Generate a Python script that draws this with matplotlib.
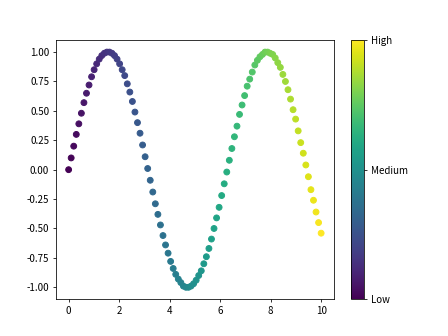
import numpy as np
import matplotlib
matplotlib.use("Agg")
import matplotlib.pyplot as plt

plt.rcParams['font.family'] = ['Noto Sans CJK SC', 'DejaVu Sans']
plt.rcParams['axes.unicode_minus'] = False

# punti
x = [0.000, 0.101, 0.202, 0.303, 0.404, 0.505, 0.606, 0.707, 0.808, 0.909,
     1.010, 1.111, 1.212, 1.313, 1.414, 1.515, 1.616, 1.717, 1.818, 1.919,
     2.020, 2.121, 2.222, 2.323, 2.424, 2.525, 2.626, 2.727, 2.828, 2.929,
     3.030, 3.131, 3.232, 3.333, 3.434, 3.535, 3.636, 3.737, 3.838, 3.939,
     4.040, 4.141, 4.242, 4.343, 4.444, 4.545, 4.646, 4.747, 4.848, 4.949,
     5.051, 5.152, 5.253, 5.354, 5.455, 5.556, 5.657, 5.758, 5.859, 5.960,
     6.061, 6.162, 6.263, 6.364, 6.465, 6.566, 6.667, 6.768, 6.869, 6.970,
     7.071, 7.172, 7.273, 7.374, 7.475, 7.576, 7.677, 7.778, 7.879, 7.980,
     8.081, 8.182, 8.283, 8.384, 8.485, 8.586, 8.687, 8.788, 8.889, 8.990,
     9.091, 9.192, 9.293, 9.394, 9.495, 9.596, 9.697, 9.798, 9.899, 10.000]
y = [0.00, 0.10, 0.20, 0.30, 0.39, 0.48, 0.57, 0.65, 0.72, 0.79,
     0.85, 0.90, 0.94, 0.97, 0.99, 1.00, 1.00, 0.99, 0.97, 0.94,
     0.90, 0.85, 0.80, 0.73, 0.66, 0.58, 0.49, 0.40, 0.31, 0.21,
     0.11, 0.01, -0.09, -0.19, -0.29, -0.38, -0.47, -0.56, -0.64, -0.71,
     -0.78, -0.84, -0.89, -0.93, -0.96, -0.99, -1.00, -1.00, -0.99, -0.97,
     -0.94, -0.90, -0.86, -0.80, -0.74, -0.67, -0.59, -0.50, -0.41, -0.32,
     -0.22, -0.12, -0.02, 0.08, 0.18, 0.28, 0.37, 0.47, 0.55, 0.63,
     0.71, 0.77, 0.83, 0.89, 0.93, 0.96, 0.98, 1.00, 1.00, 0.99,
     0.98, 0.95, 0.91, 0.87, 0.81, 0.75, 0.68, 0.60, 0.51, 0.43,
     0.33, 0.23, 0.14, 0.04, -0.06, -0.17, -0.26, -0.36, -0.45, -0.54]
cbar_ticks = [0, 5, 10]
cbar_labels = ["Low", "Medium", "High"]

fig, ax = plt.subplots(figsize=(6.4, 4.8), dpi=70)
sc = ax.scatter(x, y, c=x, cmap="viridis")
cb = fig.colorbar(sc, ax=ax, ticks=cbar_ticks)
cb.ax.set_yticklabels(cbar_labels)

fig.savefig("out.png", dpi=70)
